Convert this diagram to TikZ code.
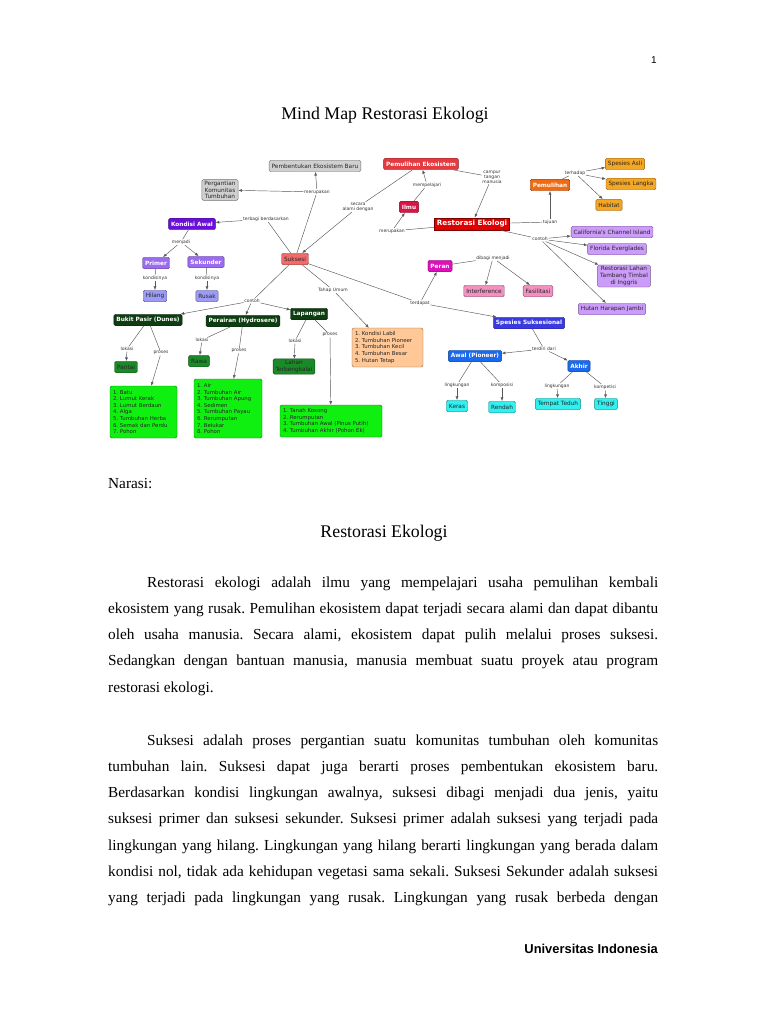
\documentclass[tikz,border=0pt]{standalone}
\usepackage{fontspec}
\setmainfont{Liberation Serif}
\newfontfamily\mapfont{DejaVu Sans}
\newfontfamily\footfont{Liberation Sans}
\usepackage{tikz}
\usetikzlibrary{arrows.meta}
\usepackage{xcolor}
\frenchspacing

% Farben der Konzepte
\definecolor{abu}{HTML}{D0D0D0}
\definecolor{ungu}{HTML}{6A0FDA}
\definecolor{ungumuda}{HTML}{9B6BF0}
\definecolor{periwinkle}{HTML}{9C9CF5}
\definecolor{salem}{HTML}{F26B6B}
\definecolor{merah}{HTML}{E53A40}
\definecolor{merahtua}{HTML}{DA1446}
\definecolor{merahterang}{HTML}{E00000}
\definecolor{oranye}{HTML}{F06A14}
\definecolor{jingga}{HTML}{F5A623}
\definecolor{lavender}{HTML}{CC9CFA}
\definecolor{ungumerah}{HTML}{DD10BB}
\definecolor{merahjambu}{HTML}{F290C0}
\definecolor{biru}{HTML}{3A3AE0}
\definecolor{birumuda}{HTML}{1A6AF0}
\definecolor{sian}{HTML}{30F0F0}
\definecolor{hijautua}{HTML}{0E3D12}
\definecolor{hijau}{HTML}{1A8A28}
\definecolor{hijaucerah}{HTML}{10F010}
\definecolor{persik}{HTML}{FFC896}

\tikzset{
  konsep/.style={draw=#1!55!black, fill=#1, rounded corners=1.5pt, line width=0.4pt,
    font=\mapfont\fontsize{5.8}{6.7}\selectfont, text=black!85,
    inner xsep=2.5pt, inner ysep=1.5pt, minimum height=11.5pt, align=center},
  tebal/.style={konsep=#1, text=white, font=\mapfont\bfseries\fontsize{5.8}{6.7}\selectfont},
  daftar/.style={konsep=#1, align=left, inner xsep=3pt,
    font=\mapfont\fontsize{5.4}{6.6}\selectfont},
  ket/.style={font=\mapfont\fontsize{4.5}{5.2}\selectfont, text=black!80, inner sep=0.6pt, align=center},
  garis/.style={draw=black!65, line width=0.45pt},
  panah/.style={garis, -{Latex[length=3.6pt,width=3pt]}},
  baris/.style={anchor=base west, inner sep=0pt, font=\fontsize{15.3}{18}\selectfont}
}

\begin{document}
\begin{tikzpicture}[x=1pt, y=-1pt]
\useasboundingbox[fill=white] (0,0) rectangle (768,1024);

% Kopf
\node[anchor=base east, inner sep=0pt, font=\footfont\fontsize{10}{12}\selectfont] (halaman) at (657,64) {1};
\node[anchor=base, inner sep=0pt, font=\fontsize{17.8}{20}\selectfont] (judul) at (385,120) {Mind Map Restorasi Ekologi};

% Konzepte
\node[konsep=abu] (pembentukan) at (315,166) {Pembentukan Ekosistem Baru};
\node[konsep=abu] (pergantian) at (220,190) {Pergantian\\Komunitas\\Tumbuhan};
\node[tebal=ungu] (kondisiawal) at (192,224) {Kondisi Awal};
\node[tebal=ungumuda] (primer) at (156,263) {Primer};
\node[tebal=ungumuda] (sekunder) at (206,262) {Sekunder};
\node[konsep=periwinkle] (hilang) at (155,296) {Hilang};
\node[konsep=periwinkle] (rusak) at (207,296) {Rusak};
\node[konsep=salem] (suksesi) at (295,259) {Suksesi};
\node[tebal=merah] (pemulihaneko) at (421,164) {Pemulihan Ekosistem};
\node[tebal=merahtua] (ilmu) at (409,207) {Ilmu};
\node[tebal=merahterang, rounded corners=0pt, minimum height=12.5pt,
  font=\mapfont\bfseries\fontsize{7.2}{8}\selectfont] (restorasi) at (472,224) {Restorasi Ekologi};
\node[tebal=oranye] (pemulihan) at (550,185) {Pemulihan};
\node[konsep=jingga] (asli) at (625,164) {Spesies Asli};
\node[konsep=jingga] (langka) at (631,184) {Spesies Langka};
\node[konsep=jingga] (habitat) at (609,205) {Habitat};
\node[konsep=lavender] (california) at (612,232) {California's Channel Island};
\node[konsep=lavender] (florida) at (617,249) {Florida Everglades};
\node[konsep=lavender] (tambang) at (624,276) {Restorasi Lahan\\Tambang Timbal\\di Inggris};
\node[konsep=lavender] (jambi) at (612,309) {Hutan Harapan Jambi};
\node[tebal=ungumerah] (peran) at (440,266) {Peran};
\node[konsep=merahjambu] (interf) at (484,291) {Interference};
\node[konsep=merahjambu] (fasil) at (538,291) {Fasilitasi};
\node[tebal=biru] (suksesional) at (529,323) {Spesies Suksesional};
\node[tebal=birumuda] (awal) at (475,356) {Awal (Pioneer)};
\node[tebal=birumuda] (akhir) at (579,366) {Akhir};
\node[konsep=sian] (keras) at (457,406) {Keras};
\node[konsep=sian] (rendah) at (502,407) {Rendah};
\node[konsep=sian] (teduh) at (558,404) {Tempat Teduh};
\node[konsep=sian] (tinggi) at (606,404) {Tinggi};
\node[tebal=hijautua] (dunes) at (148,320) {Bukit Pasir (Dunes)};
\node[tebal=hijautua] (hydro) at (243,321) {Perairan (Hydrosere)};
\node[tebal=hijautua] (lapangan) at (309,314) {Lapangan};
\node[konsep=hijau] (pantai) at (126,367) {Pantai};
\node[konsep=hijau] (rawa) at (199,361) {Rawa};
\node[konsep=hijau] (lahan) at (294,366.5) {Lahan\\Terbengkalai};
\node[daftar=hijaucerah, text width=61pt, minimum height=52pt] (listdunes) at (143.5,412)
  {1. Batu\\2. Lumut Kerak\\3. Lumut Berdaun\\4. Alga\\5. Tumbuhan Herba\\6. Semak dan Perdu\\7. Pohon};
\node[daftar=hijaucerah, text width=62pt, minimum height=59pt] (listhydro) at (228,408.5)
  {1. Air\\2. Tumbuhan Air\\3. Tumbuhan Apung\\4. Sedimen\\5. Tumbuhan Payau\\6. Rerumputan\\7. Belukar\\8. Pohon};
\node[daftar=hijaucerah, text width=96pt, minimum height=32pt] (listlap) at (331,421)
  {1. Tanah Kosong\\2. Rerumputan\\3. Tumbuhan Awal (Pinus Putih)\\4. Tumbuhan Akhir (Pohon Ek)};
\node[daftar=persik, text width=65pt, minimum height=39pt] (tahap) at (387.5,347.5)
  {1. Kondisi Labil\\2. Tumbuhan Pioneer\\3. Tumbuhan Kecil\\4. Tumbuhan Besar\\5. Hutan Tetap};

% Verbindungen mit Beschriftung
\node[ket] (kMerupakan) at (317,192) {merupakan};
\draw[garis] (suksesi) -- (kMerupakan);
\draw[panah] (kMerupakan) -- (pembentukan);
\draw[panah] (kMerupakan) -- (pergantian);

\node[ket] (kTerbagi) at (266,219) {terbagi berdasarkan};
\draw[garis] (suksesi) -- (kTerbagi);
\draw[panah] (kTerbagi) -- (kondisiawal);

\node[ket] (kMenjadi) at (181,242) {menjadi};
\draw[garis] (kondisiawal) -- (kMenjadi);
\draw[panah] (kMenjadi) -- (primer);
\draw[panah] (kMenjadi) -- (sekunder);

\node[ket] (kKondisiA) at (155,278) {kondisinya};
\draw[garis] (primer) -- (kKondisiA);
\draw[panah] (kKondisiA) -- (hilang);
\node[ket] (kKondisiB) at (207,278) {kondisinya};
\draw[garis] (sekunder) -- (kKondisiB);
\draw[panah] (kKondisiB) -- (rusak);

\node[ket] (kAlami) at (358,207) {secara\\alami dengan};
\draw[garis] (pemulihaneko) -- (kAlami);
\draw[panah] (kAlami) -- (suksesi);

\node[ket] (kCampur) at (492,177) {campur\\tangan\\manusia};
\draw[garis] (pemulihaneko) -- (kCampur);
\draw[panah] (kCampur) -- (restorasi);

\node[ket] (kMempelajari) at (427,185) {mempelajari};
\draw[garis] (ilmu) -- (kMempelajari);
\draw[panah] (kMempelajari) -- (pemulihaneko);

\node[ket] (kMerupakanB) at (392,231) {merupakan};
\draw[garis] (restorasi) -- (kMerupakanB);
\draw[panah] (kMerupakanB) -- (ilmu);

\node[ket] (kTujuan) at (550,222) {tujuan};
\draw[garis] (restorasi) -- (kTujuan);
\draw[panah] (kTujuan) -- (pemulihan);

\node[ket] (kTerhadap) at (575,173) {terhadap};
\draw[garis] (pemulihan) -- (kTerhadap);
\foreach \t in {asli,langka,habitat}
  \draw[panah] (kTerhadap) -- (\t);

\node[ket] (kContohB) at (540,239) {contoh};
\draw[garis] (restorasi) -- (kContohB);
\foreach \t in {california,florida,tambang,jambi}
  \draw[panah] (kContohB) -- (\t);

\node[ket] (kTerdapat) at (420,303) {terdapat};
\draw[garis] (suksesi) -- (kTerdapat);
\draw[panah] (kTerdapat) -- (peran);
\draw[panah] (kTerdapat) -- (suksesional);

\node[ket] (kDibagi) at (493,258) {dibagi menjadi};
\draw[garis] (peran) -- (kDibagi);
\draw[panah] (kDibagi) -- (interf);
\draw[panah] (kDibagi) -- (fasil);

\node[ket] (kTerdiri) at (544,349) {terdiri dari};
\draw[garis] (suksesional) -- (kTerdiri);
\draw[panah] (kTerdiri) -- (awal);
\draw[panah] (kTerdiri) -- (akhir);

\node[ket] (kLingA) at (457,385) {lingkungan};
\draw[garis] (awal) -- (kLingA);
\draw[panah] (kLingA) -- (keras);
\node[ket] (kKomposisi) at (502,385) {komposisi};
\draw[garis] (awal) -- (kKomposisi);
\draw[panah] (kKomposisi) -- (rendah);
\node[ket] (kLingB) at (557,386) {lingkungan};
\draw[garis] (akhir) -- (kLingB);
\draw[panah] (kLingB) -- (teduh);
\node[ket] (kKompetisi) at (605,387) {kompetisi};
\draw[garis] (akhir) -- (kKompetisi);
\draw[panah] (kKompetisi) -- (tinggi);

\node[ket] (kTahap) at (333,290) {Tahap Umum};
\draw[garis] (suksesi) -- (kTahap);
\draw[panah] (kTahap) -- (tahap);

\node[ket] (kContohA) at (252,301) {contoh};
\draw[garis] (suksesi) -- (kContohA);
\foreach \t in {dunes,hydro,lapangan}
  \draw[panah] (kContohA) -- (\t);

\node[ket] (kLokasiA) at (127,349) {lokasi};
\draw[garis] (dunes) -- (kLokasiA);
\draw[panah] (kLokasiA) -- (pantai);
\node[ket] (kProsesA) at (161,353) {proses};
\draw[garis] (dunes) -- (kProsesA);
\draw[panah] (kProsesA) -- (listdunes);

\node[ket] (kLokasiB) at (202,340) {lokasi};
\draw[garis] (hydro) -- (kLokasiB);
\draw[panah] (kLokasiB) -- (rawa);
\node[ket] (kProsesB) at (239,351) {proses};
\draw[garis] (hydro) -- (kProsesB);
\draw[panah] (kProsesB) -- (listhydro);

\node[ket] (kLokasiC) at (295,341) {lokasi};
\draw[garis] (lapangan) -- (kLokasiC);
\draw[panah] (kLokasiC) -- (lahan);
\node[ket] (kProsesC) at (330,335) {proses};
\draw[garis] (lapangan) -- (kProsesC);
\draw[panah] (kProsesC) -- (listlap);

% Narasi
\node[baris] (narasi) at (108,488) {Narasi:};
\node[anchor=base, inner sep=0pt, font=\fontsize{17.8}{20}\selectfont] (subjudul) at (384,537) {Restorasi Ekologi};

\node[baris] (p1a) at (147,587) {\makebox[511pt][s]{Restorasi ekologi adalah ilmu yang mempelajari usaha pemulihan kembali}};
\node[baris] (p1b) at (108,613.3) {\makebox[550pt][s]{ekosistem yang rusak. Pemulihan ekosistem dapat terjadi secara alami dan dapat dibantu}};
\node[baris] (p1c) at (108,639.6) {\makebox[550pt][s]{oleh usaha manusia. Secara alami, ekosistem dapat pulih melalui proses suksesi.}};
\node[baris] (p1d) at (108,665.9) {\makebox[550pt][s]{Sedangkan dengan bantuan manusia, manusia membuat suatu proyek atau program}};
\node[baris] (p1e) at (108,692.2) {restorasi ekologi.};

\node[baris] (p2a) at (147,745) {\makebox[511pt][s]{Suksesi adalah proses pergantian suatu komunitas tumbuhan oleh komunitas}};
\node[baris] (p2b) at (108,771.3) {\makebox[550pt][s]{tumbuhan lain. Suksesi dapat juga berarti proses pembentukan ekosistem baru.}};
\node[baris] (p2c) at (108,797.6) {\makebox[550pt][s]{Berdasarkan kondisi lingkungan awalnya, suksesi dibagi menjadi dua jenis, yaitu}};
\node[baris] (p2d) at (108,823.9) {\makebox[550pt][s]{suksesi primer dan suksesi sekunder. Suksesi primer adalah suksesi yang terjadi pada}};
\node[baris] (p2e) at (108,850.2) {\makebox[550pt][s]{lingkungan yang hilang. Lingkungan yang hilang berarti lingkungan yang berada dalam}};
\node[baris] (p2f) at (108,876.5) {\makebox[550pt][s]{kondisi nol, tidak ada kehidupan vegetasi sama sekali. Suksesi Sekunder adalah suksesi}};
\node[baris] (p2g) at (108,902.8) {\makebox[550pt][s]{yang terjadi pada lingkungan yang rusak. Lingkungan yang rusak berbeda dengan}};

% Fuss
\node[anchor=base east, inner sep=0pt, font=\footfont\bfseries\fontsize{12.9}{15}\selectfont] (kaki) at (658,953) {Universitas Indonesia};
\end{tikzpicture}
\end{document}
